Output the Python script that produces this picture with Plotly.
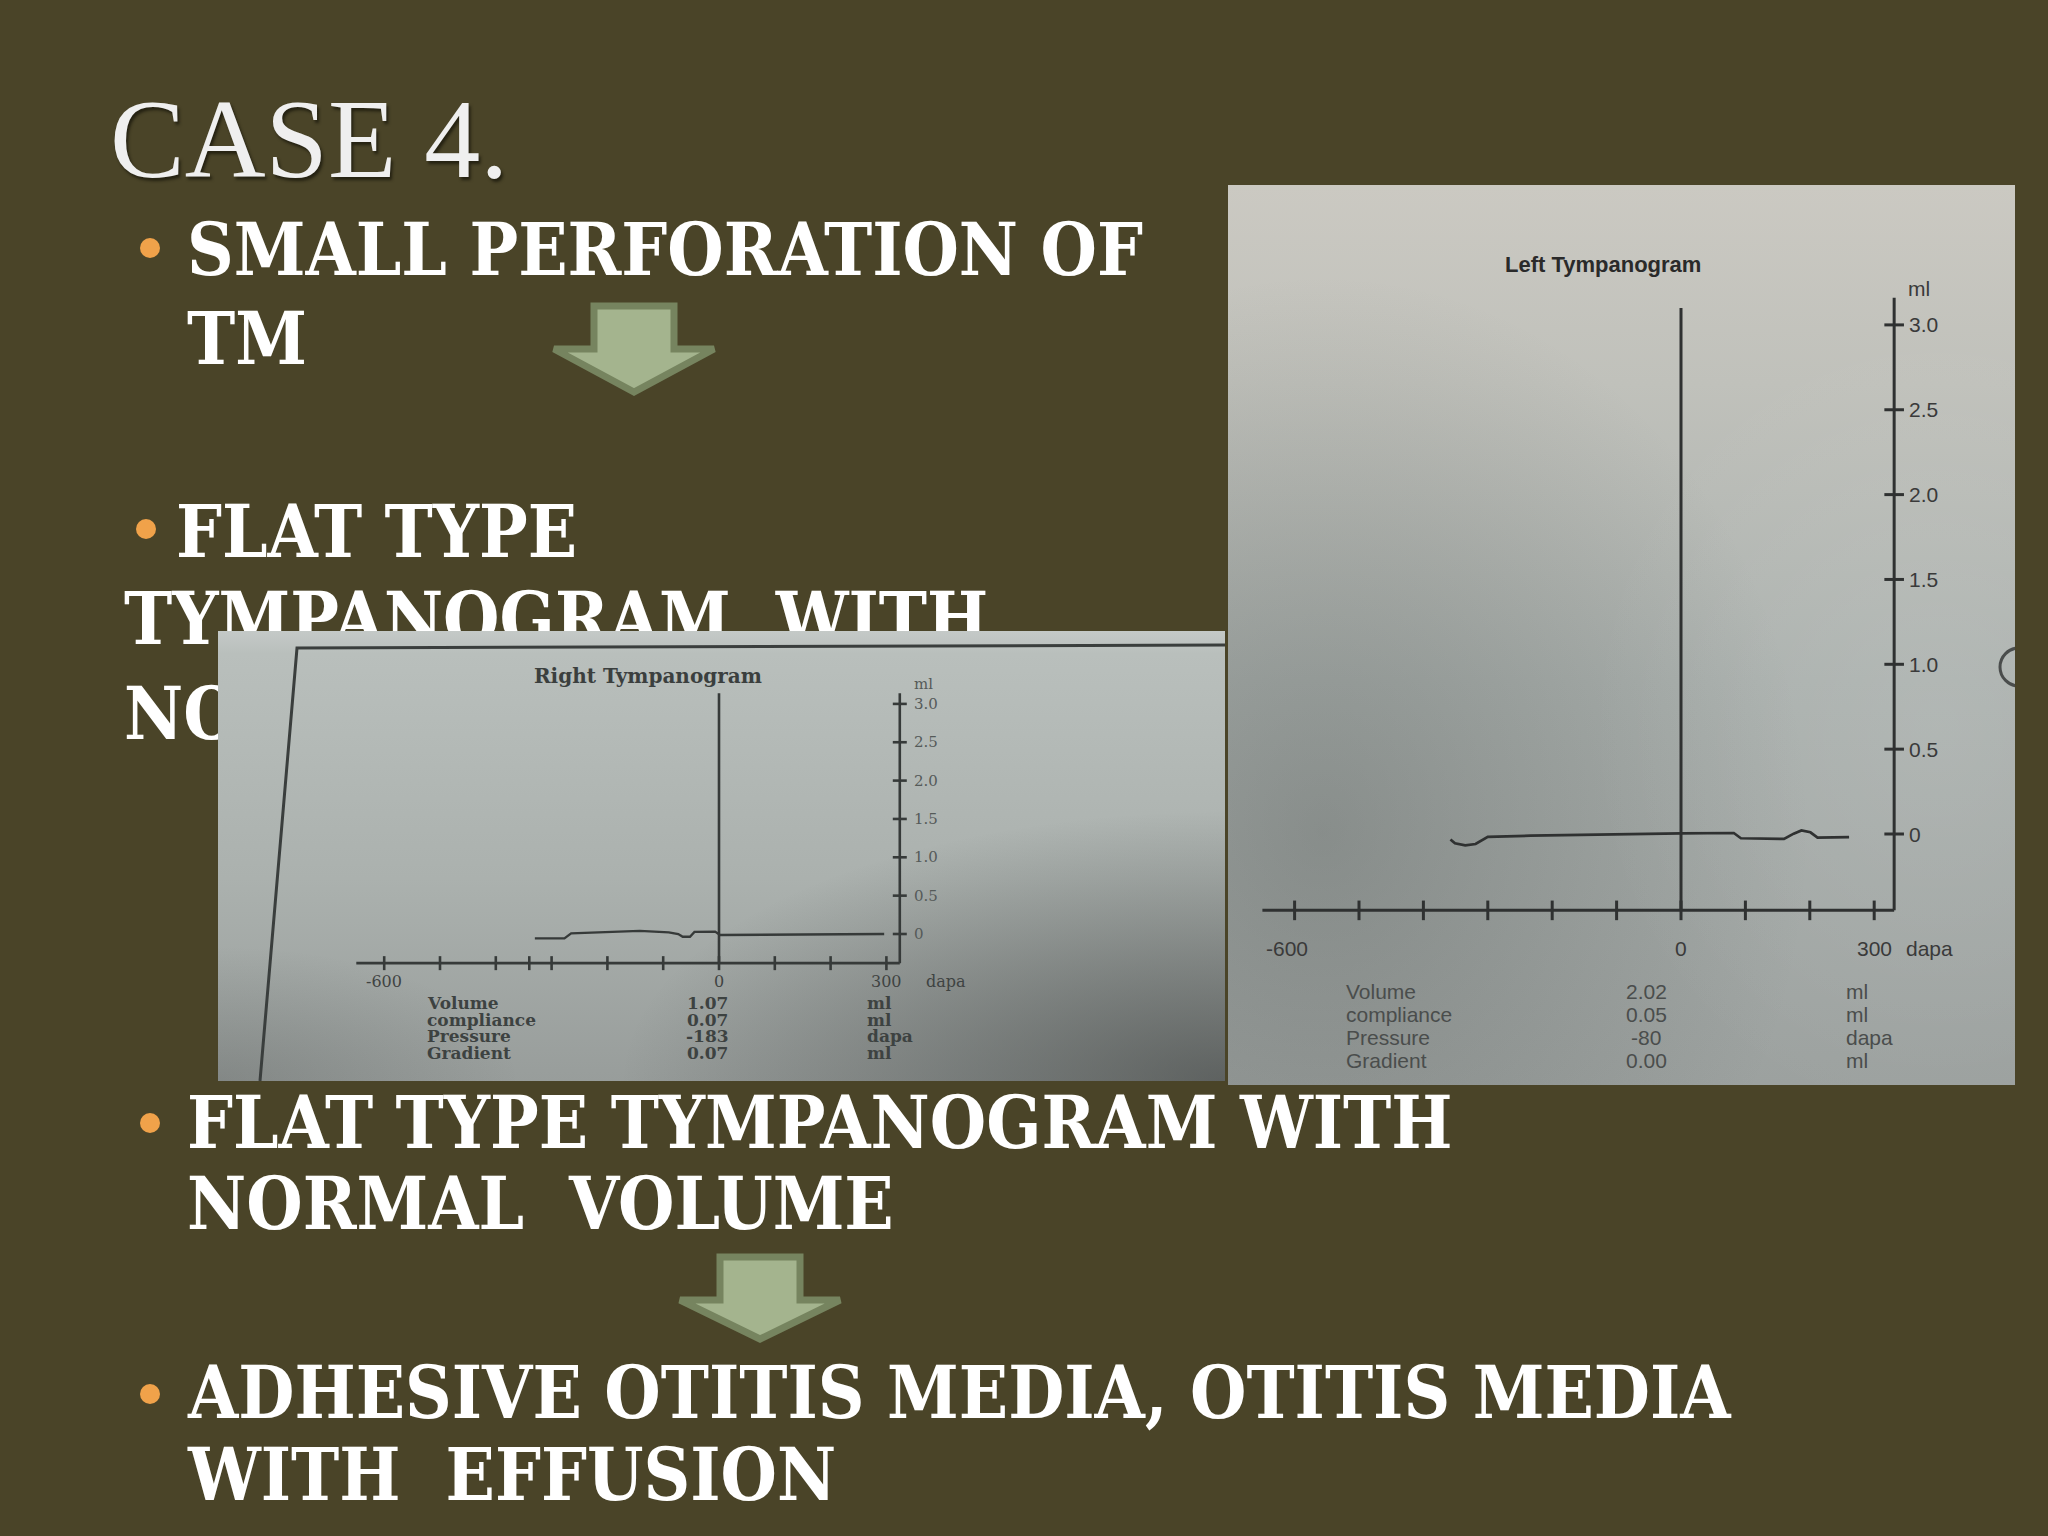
import base64
import plotly.graph_objects as go

W, H = 2048, 1536
BG = "#4a4428"

# ---------------- slide text ----------------
TITLE = "CASE 4."
UPPER_LINES = ["SMALL PERFORATION OF", "TM", "FLAT TYPE"]
HIDDEN_LINES = ["TYMPANOGRAM\u00a0 WITH", "NORMAL\u00a0 VOLUME"]
LOWER_LINES = ["FLAT TYPE TYMPANOGRAM WITH", "NORMAL\u00a0 VOLUME",
               "ADHESIVE OTITIS MEDIA, OTITIS MEDIA", "WITH\u00a0 EFFUSION"]

ROW_NAMES = ["Volume", "compliance", "Pressure", "Gradient"]
ROW_UNITS = ["ml", "ml", "dapa", "ml"]

# ---------------- right tympanogram (photo on the left) ----------------
RT_TITLE = "Right Tympanogram"
RT_PRESSURE = [-330, -277, -265, -205, -142, -90, -73, -65, -52, -44, -7, 2, 141, 296]
RT_COMPLIANCE = [-0.058, -0.058, 0.009, 0.022, 0.040, 0.022, 0.0, -0.036, -0.036,
                 0.027, 0.031, -0.013, -0.009, 0.0]
RT_XTICKS = [-600, -500, -400, -340, -300, -200, -100, 0, 100, 200, 300]
RT_XLABELS = [-600, 0, 300]
RT_YTICKS = [0, 0.5, 1.0, 1.5, 2.0, 2.5, 3.0]
RT_AXIS_X = [-650, 324]
RT_AXIS_Y = [-0.38, 3.14]
RT_VALUES = ["1.07", "0.07", "-183", "0.07"]

# ---------------- left tympanogram (photo on the right) ----------------
LT_TITLE = "Left Tympanogram"
LT_PRESSURE = [-358, -351, -335, -319, -300, -234, 0, 82, 93, 160, 175, 187, 201, 212, 261]
LT_COMPLIANCE = [-0.032, -0.055, -0.067, -0.059, -0.017, -0.010, 0.004, 0.006, -0.025,
                 -0.029, 0.002, 0.021, 0.010, -0.021, -0.019]
LT_XTICKS = [-600, -500, -400, -300, -200, -100, 0, 100, 200, 300]
LT_XLABELS = [-600, 0, 300]
LT_YTICKS = [0, 0.5, 1.0, 1.5, 2.0, 2.5, 3.0]
LT_AXIS_X = [-650, 331]
LT_AXIS_Y = [-0.45, 3.16]
LT_ZERO_TOP = 3.10
LT_VALUES = ["2.02", "0.05", "-80", "0.00"]

# pixel box of each photo + where 0 daPa / 0 ml sit and px per unit
PANELS = {
    "rt": dict(box=(218, 631, 1225, 1081), x0=719, sx=0.558, y0=934, sy=76.7),
    "lt": dict(box=(1228, 185, 2015, 1085), x0=1681, sx=0.644, y0=834, sy=169.7),
}


def panel_axes(p):
    l, t, r, b = p["box"]
    xr = [(l - p["x0"]) / p["sx"], (r - p["x0"]) / p["sx"]]
    yr = [(p["y0"] - b) / p["sy"], (p["y0"] - t) / p["sy"]]
    return [l / W, r / W], xr, [1 - b / H, 1 - t / H], yr


def svg_uri(svg):
    return "data:image/svg+xml;base64," + base64.b64encode(svg.encode()).decode()


# photo backgrounds (paper + lighting), sized to the pixel boxes
rt_w, rt_h = 1007, 450
RT_SVG = f"""<svg xmlns="http://www.w3.org/2000/svg" width="{rt_w}" height="{rt_h}" viewBox="0 0 {rt_w} {rt_h}" preserveAspectRatio="none">
<defs>
<linearGradient id="v" x1="0" y1="0" x2="0" y2="1">
<stop offset="0" stop-color="#c4c9c7"/><stop offset="0.05" stop-color="#b9bfbc"/>
<stop offset="0.55" stop-color="#abb1ae"/><stop offset="1" stop-color="#989d9b"/></linearGradient>
<radialGradient id="d" cx="1" cy="1" r="0.6">
<stop offset="0" stop-color="#2e3130" stop-opacity="0.55"/><stop offset="1" stop-color="#2e3130" stop-opacity="0"/></radialGradient>
<radialGradient id="e" cx="0" cy="1" r="0.3">
<stop offset="0" stop-color="#2e3130" stop-opacity="0.2"/><stop offset="1" stop-color="#2e3130" stop-opacity="0"/></radialGradient>
</defs>
<rect width="{rt_w}" height="{rt_h}" fill="url(#v)"/>
<rect width="{rt_w}" height="{rt_h}" fill="url(#d)"/>
<rect width="{rt_w}" height="{rt_h}" fill="url(#e)"/>
<polyline points="42,450 79,17 1007,14" fill="none" stroke="#3a3e3d" stroke-width="3"/>
</svg>"""

lt_w, lt_h = 787, 900
LT_SVG = f"""<svg xmlns="http://www.w3.org/2000/svg" width="{lt_w}" height="{lt_h}" viewBox="0 0 {lt_w} {lt_h}" preserveAspectRatio="none">
<defs>
<linearGradient id="v" x1="0" y1="0" x2="0" y2="1">
<stop offset="0" stop-color="#cbc9c2"/><stop offset="0.22" stop-color="#c0c1bb"/>
<stop offset="0.55" stop-color="#aab0ad"/><stop offset="1" stop-color="#9ca19f"/></linearGradient>
<radialGradient id="d" cx="0.12" cy="0.72" r="0.62">
<stop offset="0" stop-color="#454a48" stop-opacity="0.30"/><stop offset="1" stop-color="#454a48" stop-opacity="0"/></radialGradient>
<radialGradient id="l" cx="0.9" cy="0.6" r="0.45">
<stop offset="0" stop-color="#ffffff" stop-opacity="0.10"/><stop offset="1" stop-color="#ffffff" stop-opacity="0"/></radialGradient>
</defs>
<rect width="{lt_w}" height="{lt_h}" fill="url(#v)"/>
<rect width="{lt_w}" height="{lt_h}" fill="url(#d)"/>
<rect width="{lt_w}" height="{lt_h}" fill="url(#l)"/>
<circle cx="791" cy="482" r="19" fill="none" stroke="#4a4d4c" stroke-width="3"/>
</svg>"""

fig = go.Figure()

# text lines that sit underneath the left photo
SERIF_B = "DejaVu Serif Condensed"
TXT = 72
for text, (x, y) in zip(HIDDEN_LINES, [(124, 626), (124, 721)]):
    fig.add_trace(go.Scatter(x=[x], y=[y], mode="text", text=[text],
                             textposition="middle right", hoverinfo="skip",
                             textfont=dict(family=SERIF_B, size=TXT, color="white", weight="bold"),
                             xaxis="x", yaxis="y"))


def add_tympanogram(xa, ya, pressure, compliance, axis_x, axis_y, zero_top, xticks, yticks,
                    ink, lw, tick_size):
    # frame: x axis, y axis and 0 daPa line
    fig.add_trace(go.Scatter(
        x=[axis_x[0], axis_x[1], None, axis_x[1], axis_x[1], None, 0, 0],
        y=[axis_y[0], axis_y[0], None, axis_y[0], axis_y[1], None, axis_y[0], zero_top],
        mode="lines", line=dict(color=ink, width=lw), hoverinfo="skip", xaxis=xa, yaxis=ya))
    fig.add_trace(go.Scatter(x=xticks, y=[axis_y[0]] * len(xticks), mode="markers",
                             marker=dict(symbol="line-ns-open", size=tick_size, color=ink,
                                         line=dict(width=lw)),
                             hoverinfo="skip", xaxis=xa, yaxis=ya))
    fig.add_trace(go.Scatter(x=[axis_x[1]] * len(yticks), y=yticks, mode="markers",
                             marker=dict(symbol="line-ew-open", size=tick_size, color=ink,
                                         line=dict(width=lw)),
                             hoverinfo="skip", xaxis=xa, yaxis=ya))
    fig.add_trace(go.Scatter(x=pressure, y=compliance, mode="lines",
                             line=dict(color=ink, width=lw * 0.9), hoverinfo="skip",
                             xaxis=xa, yaxis=ya))


add_tympanogram("x2", "y2", RT_PRESSURE, RT_COMPLIANCE, RT_AXIS_X, RT_AXIS_Y, RT_AXIS_Y[1],
                RT_XTICKS, RT_YTICKS, "#363a39", 2.6, 10)
add_tympanogram("x3", "y3", LT_PRESSURE, LT_COMPLIANCE, LT_AXIS_X, LT_AXIS_Y, LT_ZERO_TOP,
                LT_XTICKS, LT_YTICKS, "#2f3131", 3, 14)

rt_xd, rt_xr, rt_yd, rt_yr = panel_axes(PANELS["rt"])
lt_xd, lt_xr, lt_yd, lt_yr = panel_axes(PANELS["lt"])

images = [
    dict(source=svg_uri(RT_SVG), xref="x2", yref="y2", x=rt_xr[0], y=rt_yr[1],
         sizex=rt_xr[1] - rt_xr[0], sizey=rt_yr[1] - rt_yr[0], sizing="stretch",
         xanchor="left", yanchor="top", layer="below"),
    dict(source=svg_uri(LT_SVG), xref="x3", yref="y3", x=lt_xr[0], y=lt_yr[1],
         sizex=lt_xr[1] - lt_xr[0], sizey=lt_yr[1] - lt_yr[0], sizing="stretch",
         xanchor="left", yanchor="top", layer="below"),
]

shapes = [
    dict(type="rect", xref="x2", yref="y2", x0=rt_xr[0], x1=rt_xr[1], y0=rt_yr[0], y1=rt_yr[1],
         fillcolor="#a9afac", line=dict(width=0), layer="below"),
    dict(type="rect", xref="x3", yref="y3", x0=lt_xr[0], x1=lt_xr[1], y0=lt_yr[0], y1=lt_yr[1],
         fillcolor="#b2b6b2", line=dict(width=0), layer="below"),
]


def arrow_path(cx, top, tip, head_y, shaft_hw, head_hw):
    return (f"M {cx - shaft_hw},{top} L {cx + shaft_hw},{top} L {cx + shaft_hw},{head_y} "
            f"L {cx + head_hw},{head_y} L {cx},{tip} L {cx - head_hw},{head_y} "
            f"L {cx - shaft_hw},{head_y} Z")


for cx, top, tip, head_y in [(634, 306, 392, 349), (760, 1257, 1339, 1300)]:
    shapes.append(dict(type="path", xref="x", yref="y", layer="above",
                       path=arrow_path(cx, top, tip, head_y, 40, 80),
                       fillcolor="#a4b48e", line=dict(color="#76845f", width=7)))

for bx, by in [(150, 248), (146, 529), (150, 1123), (150, 1394)]:
    shapes.append(dict(type="circle", xref="x", yref="y", layer="above",
                       x0=bx - 10, x1=bx + 10, y0=by - 10, y1=by + 10,
                       fillcolor="#f0a24a", line=dict(width=0)))


def note(text, x, y, size, color, family, xanchor="left", yanchor="middle",
         xref="x", yref="y", weight="normal", **kw):
    return dict(text=text, x=x, y=y, xref=xref, yref=yref, showarrow=False,
                xanchor=xanchor, yanchor=yanchor,
                font=dict(family=family, size=size, color=color, weight=weight), **kw)


title = note(TITLE, 108, 139, 112, "#efefef", "Liberation Serif")
title["font"]["shadow"] = "2px 3px 3px rgba(20,18,8,0.7)"
annotations = [title]
for text, (x, y) in zip(UPPER_LINES, [(185, 249), (185, 338), (174, 531)]):
    annotations.append(note(text, x, y, TXT, "white", SERIF_B, weight="bold"))
for text, (x, y) in zip(LOWER_LINES, [(185, 1122), (185, 1203), (185, 1392), (185, 1474)]):
    annotations.append(note(text, x, y, TXT, "white", SERIF_B, weight="bold"))

# right tympanogram texts
RT_FONT = "DejaVu Serif"
annotations.append(note(RT_TITLE, 648, 676, 20, "#3b3f3e", RT_FONT, xanchor="center", weight="bold"))
annotations.append(note("ml", RT_AXIS_X[1], RT_AXIS_Y[1], 15, "#555a59", RT_FONT,
                        xref="x2", yref="y2", yanchor="bottom", xshift=12, yshift=-2))
for v in RT_YTICKS:
    annotations.append(note(f"{v:g}" if v == 0 else f"{v:.1f}", RT_AXIS_X[1], v, 15, "#555a59",
                            RT_FONT, xref="x2", yref="y2", xshift=12))
for v in RT_XLABELS:
    annotations.append(note(str(v), v, RT_AXIS_Y[0], 16, "#3f4342", RT_FONT, xref="x2", yref="y2",
                            xanchor="center", yshift=-18))
annotations.append(note("dapa", RT_XLABELS[-1], RT_AXIS_Y[0], 16, "#3f4342", RT_FONT,
                        xref="x2", yref="y2", yshift=-18, xshift=38))
for i, (name, val, unit) in enumerate(zip(ROW_NAMES, RT_VALUES, ROW_UNITS)):
    y = 1003 + i * 16.5
    annotations.append(note(name, 425, y, 17, "#3d4241", RT_FONT, weight="bold"))
    annotations.append(note(val, 707, y, 17, "#3d4241", RT_FONT, xanchor="center", weight="bold"))
    annotations.append(note(unit, 865, y, 17, "#3d4241", RT_FONT, weight="bold"))

# left tympanogram texts
LT_FONT = "Liberation Sans"
annotations.append(note(LT_TITLE, 1603, 264, 22, "#2a2a2a", LT_FONT, xanchor="center", weight="bold"))
annotations.append(note("ml", LT_AXIS_X[1], LT_AXIS_Y[1], 21, "#3a3a3a", LT_FONT,
                        xref="x3", yref="y3", yanchor="bottom", xshift=12, yshift=-4))
for v in LT_YTICKS:
    annotations.append(note(f"{v:g}" if v == 0 else f"{v:.1f}", LT_AXIS_X[1], v, 21, "#3a3a3a",
                            LT_FONT, xref="x3", yref="y3", xshift=13))
for v in LT_XLABELS:
    annotations.append(note(str(v), v, LT_AXIS_Y[0], 21, "#3a3a3a", LT_FONT, xref="x3", yref="y3",
                            xanchor="center", yshift=-38, xshift=-8 if v < 0 else 0))
annotations.append(note("dapa", LT_XLABELS[-1], LT_AXIS_Y[0], 21, "#3a3a3a", LT_FONT,
                        xref="x3", yref="y3", yshift=-38, xshift=30))
for i, (name, val, unit) in enumerate(zip(ROW_NAMES, LT_VALUES, ROW_UNITS)):
    y = 991 + i * 23
    annotations.append(note(name, 1344, y, 21, "#4a4d4c", LT_FONT))
    annotations.append(note(val, 1646, y, 21, "#4a4d4c", LT_FONT, xanchor="center"))
    annotations.append(note(unit, 1844, y, 21, "#4a4d4c", LT_FONT))

fig.update_layout(
    width=W, height=H, margin=dict(l=0, r=0, t=0, b=0),
    paper_bgcolor=BG, plot_bgcolor="rgba(0,0,0,0)", showlegend=False,
    xaxis=dict(domain=[0, 1], range=[0, W], visible=False),
    yaxis=dict(domain=[0, 1], range=[H, 0], visible=False),
    xaxis2=dict(domain=rt_xd, range=rt_xr, visible=False, anchor="y2"),
    yaxis2=dict(domain=rt_yd, range=rt_yr, visible=False, anchor="x2"),
    xaxis3=dict(domain=lt_xd, range=lt_xr, visible=False, anchor="y3"),
    yaxis3=dict(domain=lt_yd, range=lt_yr, visible=False, anchor="x3"),
    images=images, shapes=shapes, annotations=annotations,
)

fig.write_html("out.html", config={"displayModeBar": False},
               post_script="document.body.style.margin='0';document.body.style.overflow='hidden';")
